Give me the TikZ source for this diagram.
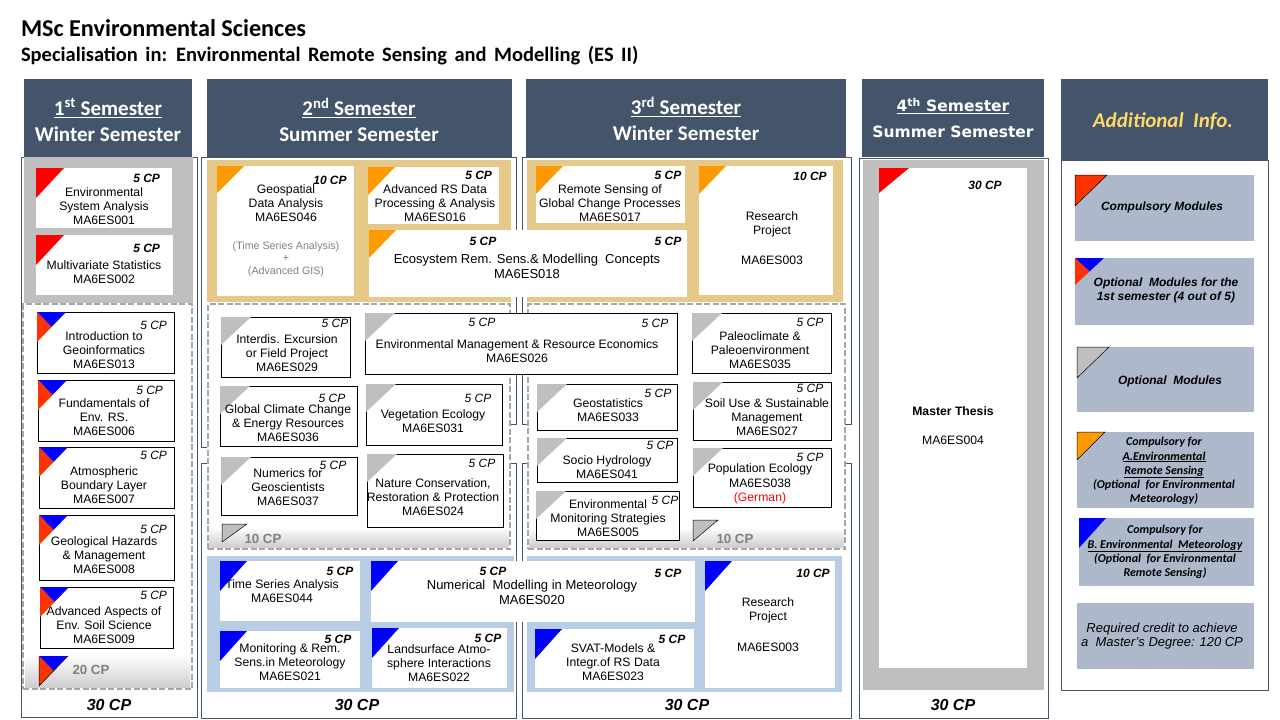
\documentclass[tikz,border=0pt]{standalone}
\usepackage{fontspec}
\setmainfont{Liberation Sans}
\newfontfamily\calib{Carlito}
\newfontfamily\dejav{DejaVu Sans}
\definecolor{hdr}{RGB}{68,84,106}
\definecolor{grayarea}{RGB}{191,191,191}
\definecolor{gold}{RGB}{230,201,137}
\definecolor{lblue}{RGB}{184,204,228}
\definecolor{legbg}{RGB}{173,185,202}
\definecolor{orng}{RGB}{255,153,0}
\definecolor{redt}{RGB}{255,0,0}
\definecolor{redo}{RGB}{255,51,0}
\definecolor{bluet}{RGB}{0,0,255}
\definecolor{grayt}{RGB}{191,191,191}
\definecolor{dashc}{RGB}{166,166,166}
\definecolor{barc}{RGB}{205,205,205}
\definecolor{yel}{RGB}{255,217,102}
\definecolor{txtgray}{RGB}{128,128,128}
\tikzset{
 every node/.style={inner sep=0pt, outer sep=0pt},
 hdrbox/.style={fill=hdr},
 hdrtxt/.style={font=\calib\bfseries\fontsize{21}{26}\selectfont, text=white, align=center},
 wbox/.style={fill=white},
 obox/.style={fill=white, draw=black, line width=0.7pt},
 mt/.style={font=\fontsize{12.2}{14.3}\selectfont, align=center},
 mtl/.style={font=\fontsize{13}{15}\selectfont, align=center},
 gsmall/.style={font=\fontsize{10.7}{12.5}\selectfont, align=center, text=txtgray},
 cpb/.style={font=\fontsize{12}{14}\selectfont\bfseries\itshape},
 cpi/.style={font=\fontsize{12}{14}\selectfont\itshape},
 tot/.style={font=\fontsize{16}{18}\selectfont\bfseries\itshape},
 subcp/.style={font=\fontsize{13.3}{15}\selectfont\bfseries, text=txtgray},
 frm/.style={draw=hdr, line width=0.8pt},
 dsh/.style={draw=dashc, line width=2.2pt, dash pattern=on 6pt off 2.5pt},
 bar/.style={top color=white, bottom color=barc},
 leg/.style={fill=legbg},
 legt/.style={font=\fontsize{12}{14}\selectfont\bfseries\itshape, align=center},
 legc/.style={font=\calib\fontsize{12}{14.2}\selectfont\bfseries\itshape, align=center},
}
\newcommand\rect[6]{\node[#2, anchor=north west, minimum width={(#5)-(#3)}, minimum height={(#6)-(#4)}] (#1) at (#3,#4) {};}
\newcommand\ctri[4]{\fill[#1] #2 -- ++(#3,0) -- ++(-#3,#4) -- cycle;}
\newcommand\otri[4]{\filldraw[fill=#1, draw=black, line width=0.5pt] #2 -- ++(#3,0) -- ++(-#3,#4) -- cycle;}
\newcommand\stri[3]{\fill[bluet] #1 -- ++(#2,0) -- ++({-#2/2},{#3/2}) -- cycle;
  \fill[redo] #1 -- ++({#2/2},{#3/2}) -- ++({-#2/2},{#3/2}) -- cycle;}
\begin{document}
\begin{tikzpicture}[x=1pt,y=-1pt]
\useasboundingbox (0,0) rectangle (1280,720);
\fill[white] (0,0) rectangle (1280,720);
% titles
\node[anchor=west, font=\calib\bfseries\fontsize{24.2}{28}\selectfont] (title) at (21,28) {MSc Environmental Sciences};
\node[anchor=west, font=\calib\bfseries\fontsize{20.5}{24}\selectfont] (subtitle) at (21,56) {\spaceskip=7.5pt Specialisation in: Environmental Remote Sensing and Modelling (ES II)};
% frames
\draw[frm] (21,157) rectangle (197,717);
\draw[frm] (207,447) -- (201,447) -- (201,157) -- (516,157) -- (516,424) -- (510,424);
\draw[frm] (207,463) -- (201,463) -- (201,718) -- (516,718) -- (516,463) -- (510,463);
\draw[frm] (528,424) -- (522,424) -- (522,157) -- (851,157) -- (851,424) -- (845,424);
\draw[frm] (528,463) -- (522,463) -- (522,718) -- (851,718) -- (851,463) -- (845,463);
\draw[frm] (859,158) rectangle (1048,718);
\draw[frm] (1061,160) rectangle (1268,690);
% headers
\rect{h1}{hdrbox}{24}{79}{192}{157}
\node[hdrtxt] (h1t) at (108,120) {\underline{1\textsuperscript{st} Semester}\\Winter Semester};
\rect{h2}{hdrbox}{207}{79}{512}{157}
\node[hdrtxt] (h2t) at (359,120) {\underline{2\textsuperscript{nd} Semester}\\Summer Semester};
\rect{h3}{hdrbox}{526}{79}{846}{157}
\node[hdrtxt] (h3t) at (686,119) {\underline{3\textsuperscript{rd} Semester}\\Winter Semester};
\rect{h4}{hdrbox}{862}{79}{1044}{157}
\node[font=\dejav\bfseries\fontsize{15.5}{26}\selectfont, text=white, align=center] (h4t) at (953,118) {\underline{4\textsuperscript{th} Semester}\\Summer Semester};
\rect{h5}{hdrbox}{1061}{79}{1268}{160}
\node[font=\calib\bfseries\itshape\fontsize{21}{26}\selectfont, text=yel] (h5t) at (1163,121) {Additional\ \ Info.};
% ---------- column 1
\rect{g1}{fill=grayarea}{24}{157}{193}{303}
\rect{d1}{fill=white,dsh}{23}{304}{192}{689}
\rect{b1}{bar}{25}{655}{190}{687.5}
\stri{(39,656)}{29}{30}
\draw[black, line width=0.5pt] (68,656) -- (39,686) -- (39,656);
\node[subcp] (b1t) at (91,670) {20 CP};
\rect{m1}{wbox}{36}{168}{172}{228} \ctri{redt}{(m1.north west)}{28}{30}
\node[cpb, anchor=east] (m1c) at (160,178) {5 CP};
\node[mt] (m1t) at (104,206) {Environmental\\System Analysis\\MA6ES001};
\rect{m2}{wbox}{36}{235}{173}{295} \ctri{redt}{(m2.north west)}{28}{30}
\node[cpb, anchor=east] (m2c) at (160,248) {5 CP};
\node[mt] (m2t) at (104,272) {Multivariate Statistics\\MA6ES002};
\rect{m3}{obox}{37}{312}{174}{373} \stri{(m3.north west)}{29}{30}
\node[cpi, anchor=east] (m3c) at (167,325) {5 CP};
\node[mt] (m3t) at (104,350) {Introduction to\\Geoinformatics\\MA6ES013};
\rect{m4}{obox}{38}{380}{174}{441} \stri{(m4.north west)}{29}{30}
\node[cpi, anchor=east] (m4c) at (163,390) {5 CP};
\node[mt] (m4t) at (104,417) {Fundamentals of\\Env. RS.\\MA6ES006};
\rect{m5}{obox}{39}{447}{174}{508} \stri{(m5.north west)}{29}{30}
\node[cpi, anchor=east] (m5c) at (167,455) {5 CP};
\node[mt] (m5t) at (104,485) {Atmospheric\\Boundary Layer\\MA6ES007};
\rect{m6}{obox}{39}{515}{174}{580} \stri{(m6.north west)}{29}{30}
\node[cpi, anchor=east] (m6c) at (167,529) {5 CP};
\node[mt] (m6t) at (104,555) {Geological Hazards\\\& Management\\MA6ES008};
\rect{m7}{obox}{40}{587}{173}{648} \stri{(m7.north west)}{29}{30}
\node[cpi, anchor=east] (m7c) at (167,595) {5 CP};
\node[mt] (m7t) at (104,625) {Advanced Aspects of\\Env. Soil Science\\MA6ES009};
\node[tot] (t1) at (109,705) {30 CP};
% ---------- regions col 2/3
\rect{go2}{fill=gold}{207}{160}{511}{302}
\rect{go3}{fill=gold}{527}{160}{843}{302}
\rect{d2}{fill=white,dsh}{208}{304}{510}{549}
\rect{d3}{fill=white,dsh}{528}{304}{845}{549}
\rect{bl2}{fill=lblue}{207}{556}{514}{692}
\rect{bl3}{fill=lblue}{527}{556}{842}{692}
\rect{b2}{bar}{209.5}{527}{508.5}{547.5}
\rect{b3}{bar}{529.5}{527}{843.5}{547.5}
\otri{grayt}{(222,524)}{25}{18}
\node[subcp] (b2t) at (263,539) {10 CP};
\otri{grayt}{(693,520)}{25}{21}
\node[subcp] (b3t) at (735,539) {10 CP};
% ---------- column 2 gold
\rect{m8}{wbox}{217}{166}{354}{296} \ctri{orng}{(m8.north west)}{27}{27}
\node[cpb] (m8c) at (330,180) {10 CP};
\node[mt] (m8t) at (286,203) {Geospatial\\Data Analysis\\MA6ES046};
\node[gsmall] (m8s) at (286,259) {(Time Series Analysis)\\+\\(Advanced GIS)};
\rect{m9}{wbox}{368}{167}{499}{224} \ctri{orng}{(m9.north west)}{27}{28}
\node[cpb, anchor=east] (m9c) at (492,175) {5 CP};
\node[mt] (m9t) at (435,203) {Advanced RS Data\\Processing \& Analysis\\MA6ES016};
\rect{m10}{wbox}{369}{230}{687}{297} \ctri{orng}{(m10.north west)}{27}{28}
\node[cpb] (m10c) at (483,241) {5 CP};
\node[cpb] (m10d) at (668,241) {5 CP};
\node[mtl] (m10t) at (527,266) {Ecosystem Rem. Sens.\& Modelling\ \ Concepts\\MA6ES018};
% ---------- column 2 dashed
\rect{m11}{obox}{221}{317}{350}{377} \ctri{grayt}{(m11.north west)}{30}{28}
\node[cpi] (m11c) at (335,323) {5 CP};
\node[mt] (m11t) at (287,353) {Interdis. Excursion\\or Field Project\\MA6ES029};
\rect{m12}{obox}{365}{313}{677}{374} \ctri{grayt}{(m12.north west)}{30}{28}
\node[cpi] (m12c) at (482,322) {5 CP};
\node[cpi] (m12d) at (655,323) {5 CP};
\node[mt] (m12t) at (517,351) {Environmental Management \& Resource Economics\\MA6ES026};
\rect{m13}{obox}{220}{386}{357}{446} \ctri{grayt}{(m13.north west)}{30}{28}
\node[cpi] (m13c) at (332,398) {5 CP};
\node[mt] (m13t) at (288,423) {Global Climate Change\\\& Energy Resources\\MA6ES036};
\rect{m14}{obox}{366}{384}{502}{445} \ctri{grayt}{(m14.north west)}{30}{28}
\node[cpi] (m14c) at (478,398) {5 CP};
\node[mt] (m14t) at (433,421) {Vegetation Ecology\\MA6ES031};
\rect{m15}{obox}{221}{457}{357}{515} \ctri{grayt}{(m15.north west)}{30}{28}
\node[cpi] (m15c) at (333,465) {5 CP};
\node[mt] (m15t) at (288,487) {Numerics for\\Geoscientists\\MA6ES037};
\rect{m16}{obox}{367}{454}{503}{527} \ctri{grayt}{(m16.north west)}{30}{28}
\node[cpi] (m16c) at (482,463) {5 CP};
\node[mt] (m16t) at (433,497) {Nature Conservation,\\Restoration \& Protection\\MA6ES024};
% ---------- column 2 blue
\rect{m17}{wbox}{220}{561}{360}{621} \ctri{bluet}{(m17.north west)}{27}{30}
\node[cpb] (m17c) at (340,571) {5 CP};
\node[mt] (m17t) at (282,591) {Time Series Analysis\\MA6ES044};
\rect{m18}{wbox}{371}{561}{695}{622} \ctri{bluet}{(m18.north west)}{27}{30}
\node[cpb] (m18c) at (493,571) {5 CP};
\node[cpb] (m18d) at (668,573) {5 CP};
\node[mtl] (m18t) at (532,592) {Numerical\ \ Modelling in Meteorology\\MA6ES020};
\rect{m19}{wbox}{220}{631}{360}{688} \ctri{bluet}{(m19.north west)}{27}{30}
\node[cpb] (m19c) at (338,639) {5 CP};
\node[mt] (m19t) at (290,662) {Monitoring \& Rem.\\Sens.in Meteorology\\MA6ES021};
\rect{m20}{wbox}{372}{628}{507}{688} \ctri{bluet}{(m20.north west)}{27}{30}
\node[cpb] (m20c) at (488,638) {5 CP};
\node[mt] (m20t) at (439,663) {Landsurface Atmo-\\sphere Interactions\\MA6ES022};
\node[tot] (t2) at (357,705) {30 CP};
% ---------- column 3 gold
\rect{m21}{wbox}{536}{166}{685}{223} \ctri{orng}{(m21.north west)}{27}{28}
\node[cpb] (m21c) at (668,175) {5 CP};
\node[mt] (m21t) at (610,203) {Remote Sensing of\\Global Change Processes\\MA6ES017};
\rect{m22}{wbox}{699}{166}{833}{295} \ctri{orng}{(m22.north west)}{27}{28}
\node[cpb] (m22c) at (810,176) {10 CP};
\node[mt] (m22t) at (772,224) {Research\\Project};
\node[mt] (m22u) at (772,260) {MA6ES003};
% ---------- column 3 dashed
\rect{m23}{obox}{692}{313}{831}{373} \ctri{grayt}{(m23.north west)}{30}{28}
\node[cpi] (m23c) at (810,322) {5 CP};
\node[mt] (m23t) at (760,350) {Paleoclimate \&\\Paleoenvironment\\MA6ES035};
\rect{m24}{obox}{537}{384}{677}{430} \ctri{grayt}{(m24.north west)}{30}{28}
\node[cpi] (m24c) at (658,393) {5 CP};
\node[mt] (m24t) at (608,410) {Geostatistics\\MA6ES033};
\rect{m25}{obox}{693}{382}{831}{440} \ctri{grayt}{(m25.north west)}{30}{28}
\node[cpi] (m25c) at (810,388) {5 CP};
\node[mt] (m25t) at (767,417) {Soil Use \& Sustainable\\Management\\MA6ES027};
\rect{m26}{obox}{537}{438}{677}{482} \ctri{grayt}{(m26.north west)}{30}{28}
\node[cpi] (m26c) at (660,445) {5 CP};
\node[mt] (m26t) at (607,467) {Socio Hydrology\\MA6ES041};
\rect{m27}{obox}{693}{448}{831}{507} \ctri{grayt}{(m27.north west)}{30}{28}
\node[cpi] (m27c) at (810,457) {5 CP};
\node[mt] (m27t) at (760,484) {Population Ecology\\MA6ES038\\\textcolor{red}{(German)}};
\rect{m28}{obox}{536}{491}{679}{540} \ctri{grayt}{(m28.north west)}{30}{28}
\node[cpi] (m28c) at (665,500) {5 CP};
\node[mt] (m28t) at (608,518) {Environmental\\Monitoring Strategies\\MA6ES005};
% ---------- column 3 blue
\rect{m29}{wbox}{535}{629}{694}{688} \ctri{bluet}{(m29.north west)}{27}{30}
\node[cpb] (m29c) at (672,639) {5 CP};
\node[mt] (m29t) at (613,662) {SVAT-Models \&\\Integr.of RS Data\\MA6ES023};
\rect{m30}{wbox}{705}{561}{835}{688} \ctri{bluet}{(m30.north west)}{27}{30}
\node[cpb] (m30c) at (813,573) {10 CP};
\node[mt] (m30t) at (768,610) {Research\\Project};
\node[mt] (m30u) at (768,647) {MA6ES003};
\node[tot] (t3) at (687,705) {30 CP};
% ---------- column 4
\rect{g4}{fill=grayarea}{863}{160}{1044}{690}
\rect{m31}{wbox}{879}{168}{1027}{668} \ctri{redt}{(m31.north west)}{30}{25}
\node[cpb] (m31c) at (985,185) {30 CP};
\node[mt, font=\fontsize{12.2}{14.3}\selectfont\bfseries] (m31t) at (953,411) {Master Thesis};
\node[mt] (m31u) at (953,440) {MA6ES004};
\node[tot] (t4) at (953,705) {30 CP};
% ---------- column 5 legend
\rect{l1}{leg}{1075}{175}{1254}{241} \otri{redo}{(l1.north west)}{32}{31}
\node[legt] (l1t) at (1162,207) {Compulsory Modules};
\rect{l2}{leg}{1075}{258}{1254}{325} \stri{(l2.north west)}{29}{27}
\node[legt] (l2t) at (1166,290) {Optional\ \ Modules for the\\1st semester (4 out of 5)};
\rect{l3}{leg}{1077}{347}{1254}{412} \otri{grayt}{(l3.north west)}{32}{31}
\node[legt] (l3t) at (1170,381) {Optional\ \ Modules};
\rect{l4}{leg}{1077}{432}{1254}{508} \otri{orng}{(l4.north west)}{28}{28}
\node[legc] (l4t) at (1164,471) {Compulsory for\\\underline{A.Environmental}\\\underline{Remote Sensing}\\(Optional\ \ for Environmental\\Meteorology)};
\rect{l5}{leg}{1079}{518}{1254}{586} \ctri{bluet}{(l5.north west)}{27}{30}
\node[legc] (l5t) at (1165,552) {Compulsory for\\\underline{B. Environmental\ \ Meteorology}\\(Optional\ \ for Environmental\\Remote Sensing)};
\rect{l6}{leg}{1077}{603}{1254}{669}
\node[font=\fontsize{13}{14.5}\selectfont\itshape, align=center] (l6t) at (1162,636) {Required credit to achieve\\a\ \ Master’s Degree: 120 CP};
\end{tikzpicture}
\end{document}
